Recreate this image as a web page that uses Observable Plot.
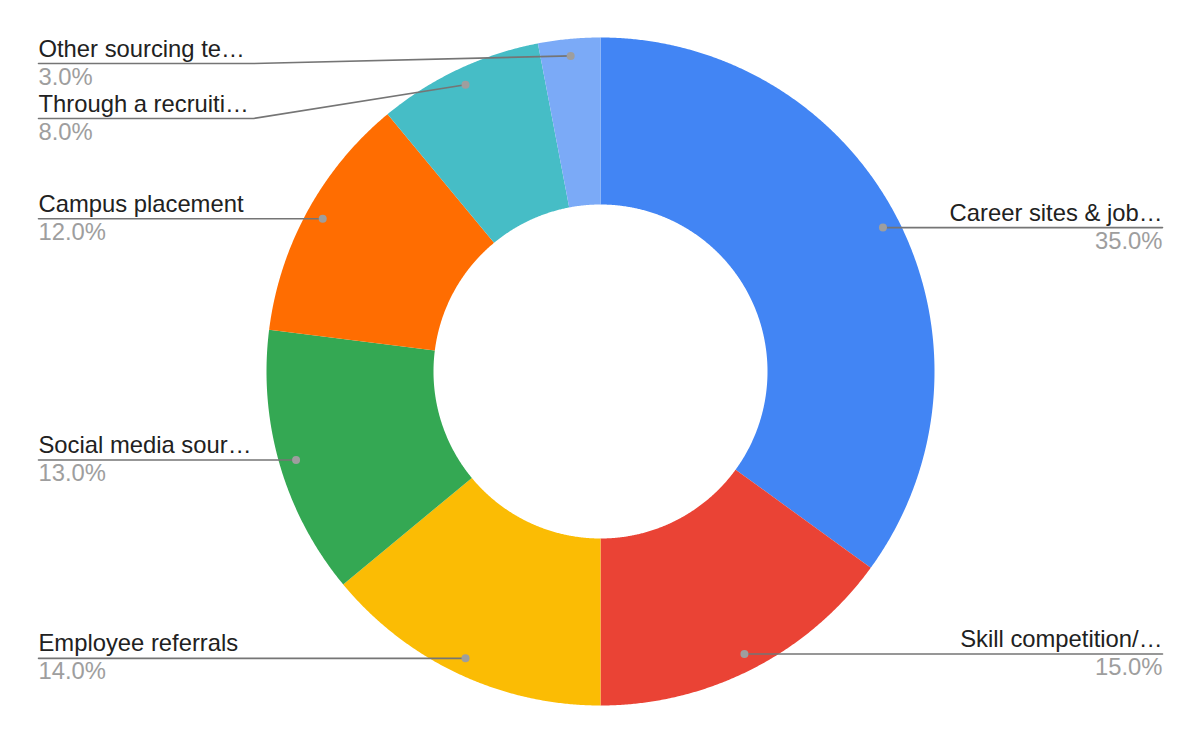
<!DOCTYPE html>
<html>
<head>
<meta charset="utf-8">
<script src="https://cdn.jsdelivr.net/npm/d3@7"></script>
<script src="https://cdn.jsdelivr.net/npm/@observablehq/plot@0.6"></script>
<style>
  html, body { margin: 0; padding: 0; background: #fff; }
  #chart svg { display: block; }
</style>
</head>
<body>
<div id="chart"></div>
<script>
const categories = ["Career sites & job…", "Skill competition/…", "Employee referrals", "Social media sour…", "Campus placement", "Through a recruiti…", "Other sourcing te…"];
const shares = [35, 15, 14, 13, 12, 8, 3];
const colors = ["#4285F4", "#EA4335", "#FBBC04", "#34A853", "#FF6D01", "#46BDC6", "#7BAAF7"];

const W = 1200, H = 742;
const cx = 600, cy = 371, R = 334, r0 = 167, rDot = 317;
const leftX = 38, rightX = 1162, elbowLeft = 253, elbowRight = 947;
const minY = 63, gap = 55;
const fs = 23.8;

const pt = (a, r) => ({x: cx + r * Math.sin(a), y: cy - r * Math.cos(a)});

const arcs = d3.pie().sort(null).value(d => d)(shares);

// slice polygons
const poly = [];
arcs.forEach((a, i) => {
  const n = Math.max(8, Math.ceil((a.endAngle - a.startAngle) / 0.005));
  for (let k = 0; k <= n; k++) {
    const t = a.startAngle + (a.endAngle - a.startAngle) * k / n;
    poly.push({name: categories[i], ...pt(t, R)});
  }
  for (let k = n; k >= 0; k--) {
    const t = a.startAngle + (a.endAngle - a.startAngle) * k / n;
    poly.push({name: categories[i], ...pt(t, r0)});
  }
});

// labels
const labels = arcs.map((a, i) => {
  const mid = (a.startAngle + a.endAngle) / 2;
  const d = pt(mid, rDot);
  return {name: categories[i], value: shares[i], side: mid < Math.PI ? "right" : "left", dx: d.x, dy: d.y, ly: d.y};
});
for (const side of ["left", "right"]) {
  const group = labels.filter(l => l.side === side).sort((a, b) => a.dy - b.dy);
  let prev = -Infinity;
  for (const l of group) {
    l.ly = Math.max(l.dy, prev + gap, minY);
    prev = l.ly;
  }
}
const leaders = [];
labels.forEach(l => {
  const endX = l.side === "left" ? leftX : rightX;
  leaders.push({name: l.name, x: l.dx, y: l.dy});
  if (Math.abs(l.ly - l.dy) > 0.5) leaders.push({name: l.name, x: l.side === "left" ? elbowLeft : elbowRight, y: l.ly});
  leaders.push({name: l.name, x: endX, y: l.ly});
});
const leftLabels = labels.filter(l => l.side === "left");
const rightLabels = labels.filter(l => l.side === "right");

const font = "'Liberation Sans', Arial, sans-serif";
const pct = d => d.value.toFixed(1) + "%";

const chart = Plot.plot({
  width: W,
  height: H,
  margin: 0,
  x: {domain: [0, W], range: [0, W], axis: null},
  y: {domain: [0, H], range: [0, H], axis: null},
  color: {domain: categories, range: colors},
  style: {fontFamily: font, background: "#fff"},
  marks: [
    Plot.line(poly, {x: "x", y: "y", z: "name", fill: "name", stroke: "none", curve: "linear"}),
    Plot.line(leaders, {x: "x", y: "y", z: "name", stroke: "#757575", strokeWidth: 1.6, curve: "linear"}),
    Plot.dot(labels, {x: "dx", y: "dy", r: 4, fill: "#9e9e9e", stroke: "none"}),
    Plot.text(leftLabels, {x: () => leftX, y: d => d.ly - 14.5, text: "name", textAnchor: "start", fontSize: fs, fill: "#212121", fontFamily: font}),
    Plot.text(rightLabels, {x: () => rightX, y: d => d.ly - 14.5, text: "name", textAnchor: "end", fontSize: fs, fill: "#212121", fontFamily: font}),
    Plot.text(leftLabels, {x: () => leftX, y: d => d.ly + 13.5, text: pct, textAnchor: "start", fontSize: fs, fill: "#9e9e9e", fontFamily: font}),
    Plot.text(rightLabels, {x: () => rightX, y: d => d.ly + 13.5, text: pct, textAnchor: "end", fontSize: fs, fill: "#9e9e9e", fontFamily: font})
  ]
});
document.getElementById("chart").appendChild(chart);
</script>
</body>
</html>
